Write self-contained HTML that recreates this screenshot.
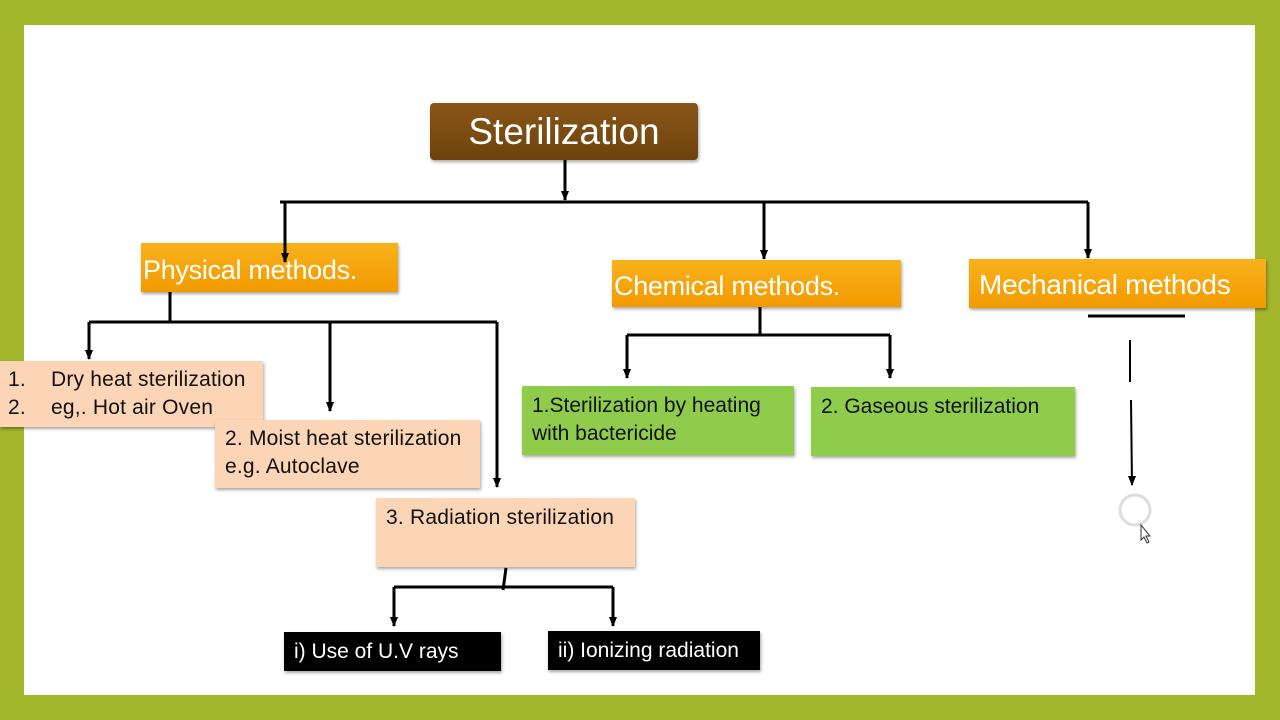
<!DOCTYPE html>
<html><head><meta charset="utf-8"><style>
body{margin:0;width:1280px;height:720px;background:#a3b52b;position:relative;overflow:hidden;font-family:"Liberation Sans",sans-serif;}
#w{position:absolute;left:24px;top:25px;width:1231px;height:670px;background:#fff;}
.b{position:absolute;box-sizing:border-box;box-shadow:1px 2px 3px rgba(0,0,0,.35);white-space:nowrap;}
.o{background:linear-gradient(#f9b21c,#f29a00);color:#fff;font-size:27px;line-height:1;padding-left:2px;padding-top:6px;display:flex;align-items:center;letter-spacing:-0.3px;}
.p{background:#fbd5b5;color:#111;font-size:21px;line-height:28px;letter-spacing:0.2px;}
.g{background:#8fcc4c;color:#111;font-size:21px;line-height:28px;}
.k{background:#000;color:#fff;font-size:21px;display:flex;align-items:center;padding-left:10px;}
svg{position:absolute;left:0;top:0}
</style></head><body>
<div id="w"></div>
<div class="b" style="left:430px;top:103px;width:268px;height:57px;background:linear-gradient(#8a5618,#6e420d);border-radius:4px;color:#fff;font-size:37px;display:flex;align-items:center;justify-content:center;">Sterilization</div>
<div class="b o" style="left:141px;top:243px;width:257px;height:49px;">Physical methods.</div>
<div class="b o" style="left:612px;top:260px;width:289px;height:47px;">Chemical methods.</div>
<div class="b o" style="left:969px;top:259px;width:297px;height:49px;padding-left:10px;font-size:28px;padding-top:2px;">Mechanical methods</div>
<div class="b p" style="left:0;top:361px;width:263px;height:66px;padding:5px 0 0 8px;">1.<span style="margin-left:13px">&nbsp;&nbsp;Dry heat sterilization</span><br>2.<span style="margin-left:13px">&nbsp;&nbsp;eg,. Hot air Oven</span></div>
<div class="b p" style="left:215px;top:420px;width:265px;height:68px;padding:5px 0 0 10px;">2. Moist heat sterilization<br>e.g. Autoclave</div>
<div class="b p" style="left:376px;top:498px;width:259px;height:69px;padding:6px 0 0 10px;">3. Radiation sterilization</div>
<div class="b g" style="left:522px;top:386px;width:272px;height:69px;padding:6px 0 0 10px;">1.Sterilization by heating<br>with bactericide</div>
<div class="b g" style="left:811px;top:387px;width:264px;height:69px;padding:6px 0 0 10px;">2. Gaseous sterilization</div>
<div class="b k" style="left:284px;top:632px;width:217px;height:39px;">i) Use of U.V rays</div>
<div class="b k" style="left:548px;top:631px;width:212px;height:39px;">ii) Ionizing radiation</div>
<svg width="1280" height="720">
<defs>
<marker id="d" markerWidth="8" markerHeight="10" refX="4" refY="9" markerUnits="userSpaceOnUse"><path d="M0,0 L8,0 L4,10z" fill="#000"/></marker></defs>
<g stroke="#000" stroke-width="3" fill="none">
<line x1="565" y1="160" x2="565" y2="200" marker-end="url(#d)"/>
<line x1="280" y1="202" x2="1088" y2="202"/>
<line x1="285" y1="202" x2="285" y2="262" marker-end="url(#d)"/>
<line x1="764" y1="202" x2="764" y2="259" marker-end="url(#d)"/>
<line x1="1088" y1="202" x2="1088" y2="258" marker-end="url(#d)"/>
<line x1="170" y1="292" x2="170" y2="322"/>
<line x1="89" y1="322" x2="497" y2="322"/>
<line x1="89" y1="322" x2="89" y2="359" marker-end="url(#d)"/>
<line x1="330" y1="322" x2="330" y2="411" marker-end="url(#d)"/>
<line x1="497" y1="322" x2="497" y2="487" marker-end="url(#d)"/>
<line x1="760" y1="307" x2="760" y2="335"/>
<line x1="627" y1="335" x2="890" y2="335"/>
<line x1="627" y1="335" x2="627" y2="378" marker-end="url(#d)"/>
<line x1="890" y1="335" x2="890" y2="378" marker-end="url(#d)"/>
<line x1="1088" y1="316" x2="1185" y2="316"/>
<line x1="1130" y1="340" x2="1130" y2="382" stroke-width="2"/>
<line x1="1131" y1="400" x2="1132" y2="485" stroke-width="2" marker-end="url(#d)"/>
<line x1="506" y1="568" x2="503" y2="590"/>
<line x1="394" y1="587" x2="613" y2="587"/>
<line x1="394" y1="587" x2="394" y2="626" marker-end="url(#d)"/>
<line x1="613" y1="587" x2="613" y2="626" marker-end="url(#d)"/>
</g>
<circle cx="1135" cy="510" r="15" fill="none" stroke="#ddd" stroke-width="3"/>
<path d="M1141,525 L1141,540 L1144,537 L1147,543 L1149,542 L1146,536 L1150,536 Z" fill="#fff" stroke="#333" stroke-width="1"/>
</svg>
</body></html>
